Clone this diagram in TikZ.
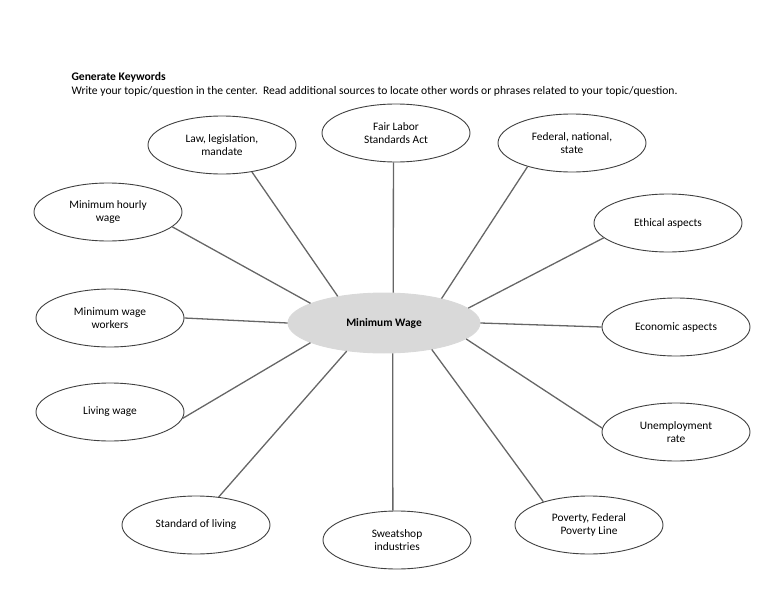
\documentclass[tikz,border=0pt]{standalone}
\usepackage{fontspec}
\setmainfont{Carlito}
\usetikzlibrary{shapes.geometric}
\begin{document}
\begin{tikzpicture}[x=1pt,y=-1pt,
  bub/.style={draw=black!75,line width=0.9pt,ellipse,minimum width=148pt,minimum height=58pt,inner sep=0pt,align=center,font=\fontsize{11.4}{13.5}\selectfont,fill=white},
  link/.style={draw=black!60,line width=1.3pt}]
\useasboundingbox (0,0) rectangle (768,594);
\node[anchor=west,font=\bfseries\fontsize{11.6}{13.5}\selectfont] (t1) at (68,77) {Generate Keywords};
\node[anchor=west,font=\fontsize{11.6}{13.5}\selectfont] (t2) at (68,91) {Write your topic/question in the center.\ \ Read additional sources to locate other words or phrases related to your topic/question.};
\node[bub,fill=black!15,draw=black!15,minimum width=192pt,minimum height=60pt,font=\bfseries\fontsize{11.4}{13.5}\selectfont] (c) at (384,323) {Minimum Wage};
\node[bub] (a1) at (222,145) {Law, legislation,\\mandate};
\node[bub] (a2) at (396,133) {Fair Labor\\Standards Act};
\node[bub] (a3) at (572,143) {Federal, national,\\state};
\node[bub] (a4) at (108,212) {Minimum hourly\\wage};
\node[bub] (a5) at (668,223) {Ethical aspects};
\node[bub] (a6) at (110,318) {Minimum wage\\workers};
\node[bub] (a7) at (676,327) {Economic aspects};
\node[bub] (a8) at (110,412) {Living wage};
\node[bub] (a9) at (676,432) {Unemployment\\rate};
\node[bub] (a10) at (196,525) {Standard of living};
\node[bub] (a11) at (397,540) {Sweatshop\\industries};
\node[bub] (a12) at (589,525) {Poverty, Federal\\Poverty Line};
\foreach \n/\p/\q in {a1/150/-42, a2/73/265, a3/23/208, a4/165/-13, a5/10/193, a6/180/0, a7/0/180, a8/195/-5, a9/-11/177, a10/217/51, a11/286/98, a12/-29/153}{\draw[link] (c.\p) -- (\n.\q);}
\end{tikzpicture}
\end{document}
